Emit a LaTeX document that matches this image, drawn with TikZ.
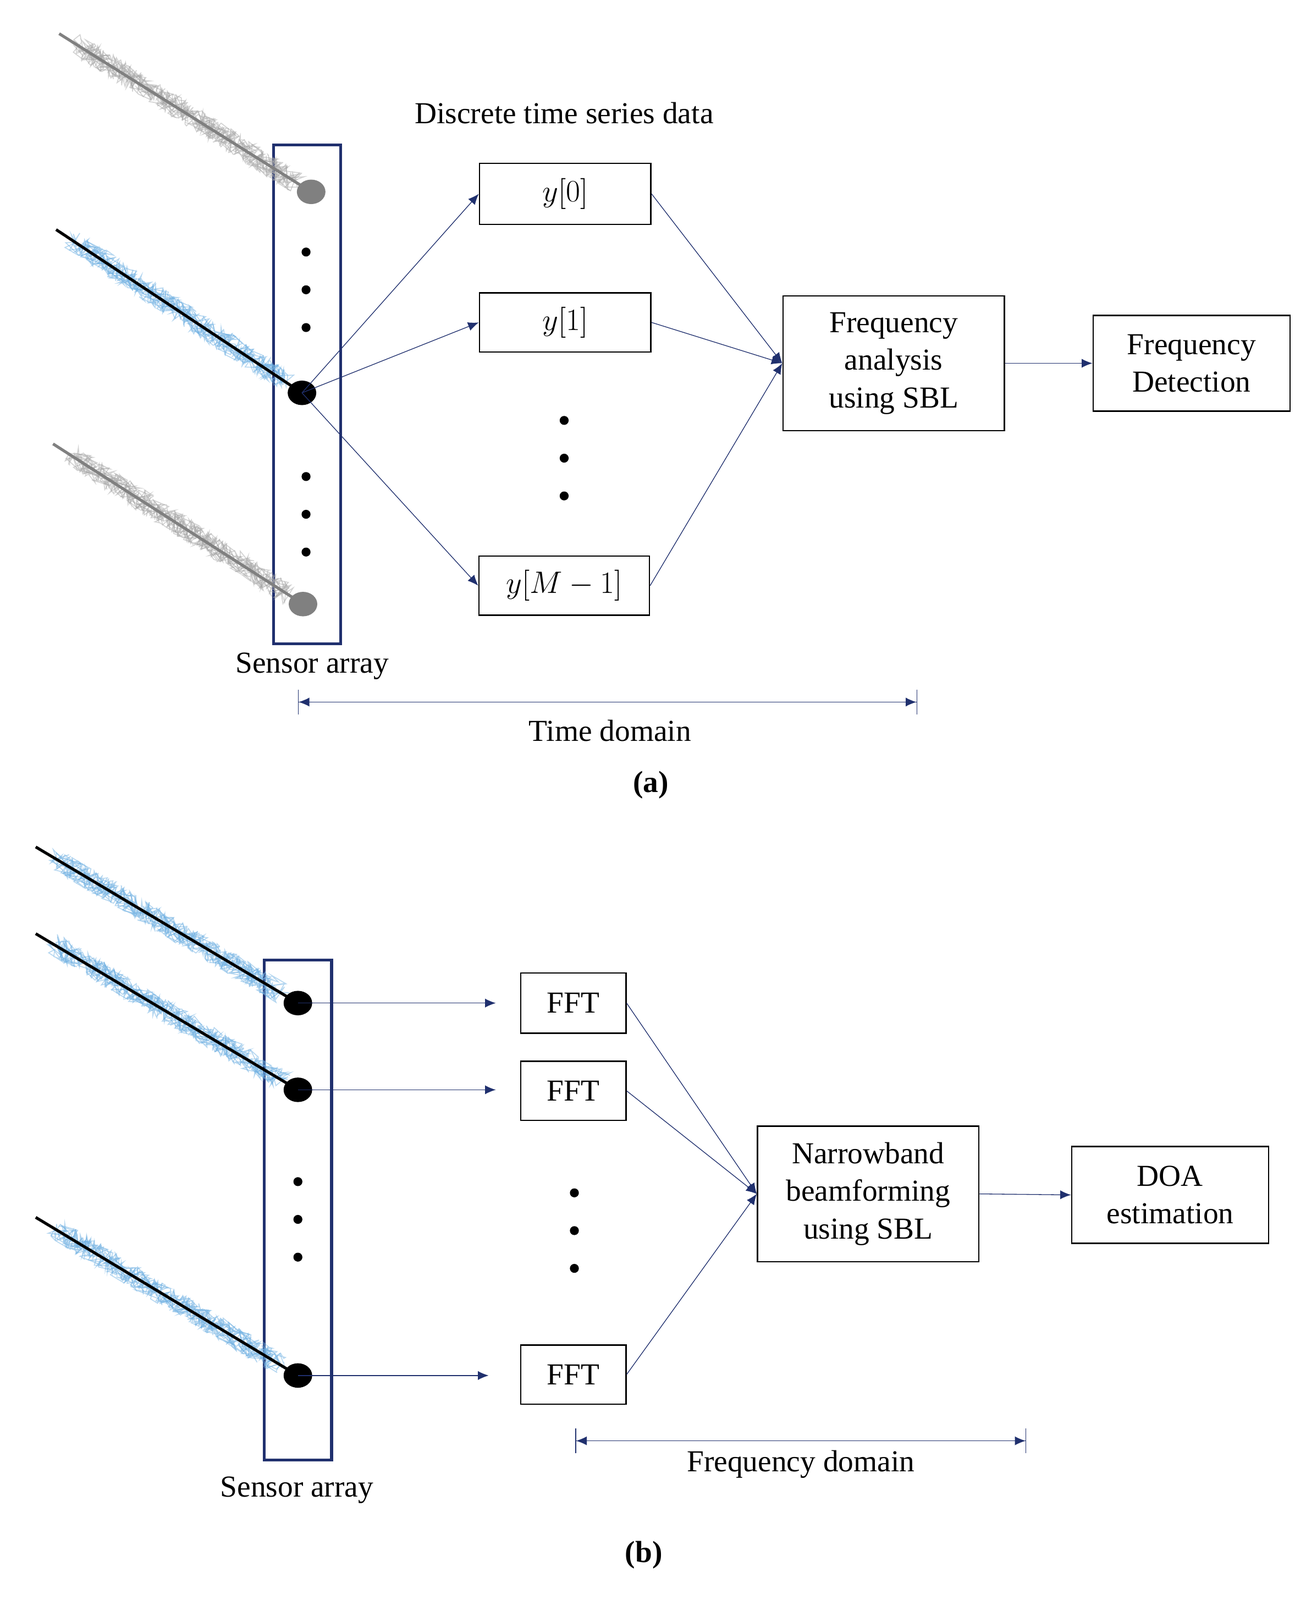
\documentclass[tikz,border=0pt]{standalone}
\usepackage{fontspec}
\setmainfont{Liberation Serif}
\usetikzlibrary{arrows.meta,decorations.pathmorphing,calc}
\definecolor{navy}{RGB}{32,48,110}
\definecolor{noiseblue}{RGB}{110,175,225}
\begin{document}
\begin{tikzpicture}[x=0.02cm,y=-0.02cm,
  font=\fontsize{17}{21}\selectfont,
  box/.style={draw,thick,align=center,inner sep=0pt},
  link/.style={navy,-{Latex[length=6pt,width=5pt]}},
  span/.style={navy,{Bar[width=14pt]Latex[length=6pt,width=5pt]}-{Latex[length=6pt,width=5pt]Bar[width=14pt]}},
  dot/.style={circle,fill,inner sep=0pt,minimum size=5pt},
  noise/.style={#1,line width=0.5pt,opacity=0.5,decorate,decoration={random steps,segment length=1.2pt,amplitude=6pt}}]
\useasboundingbox (0,0) rectangle (1280,1568);
% ray with sensor: start, sensor, colour of line, colour of noise, colour of sensor
\newcommand{\ray}[5]{%
  \foreach \k in {1,...,6}{\draw[noise=#4] ($(#1)!0.08!(#2)$) -- ($(#1)!0.93!(#2)$);}
  \draw[#3,line width=1.6pt] (#1) -- (#2);
  \fill[#5] (#2) ellipse (14 and 12);}
% ---------- (a) ----------
\draw[navy,line width=1.6pt] (268,142) rectangle (334,631);
\ray{58,33}{305,188}{gray}{gray!70}{gray}
\ray{55,225}{296,385}{black}{noiseblue}{black}
\ray{52,435}{297,592}{gray}{gray!70}{gray}
\coordinate (s0) at (296,385);
\foreach \y in {247,284,321,467,504,541} \node[dot] at (300,\y) {};
\node at (553,111) {Discrete time series data};
\node[box,minimum width=168*0.02cm,minimum height=60*0.02cm] (y0) at (554,190) {$y[0]$};
\node[box,minimum width=168*0.02cm,minimum height=58*0.02cm] (y1) at (554,316) {$y[1]$};
\node[box,minimum width=167*0.02cm,minimum height=58*0.02cm] (yM) at (553,574) {$y[M-1]$};
\foreach \y in {412,449,486} \node[dot] at (553,\y) {};
\node[box,minimum width=217*0.02cm,minimum height=132*0.02cm] (fa) at (876,356) {Frequency\\analysis\\using SBL};
\node[box,minimum width=193*0.02cm,minimum height=94*0.02cm] (fd) at (1168,356) {Frequency\\Detection};
\draw[link] (s0) -- (y0.west);
\draw[link] (s0) -- (y1.west);
\draw[link] (s0) -- (yM.west);
\draw[link] (y0.east) -- (fa.west);
\draw[link] (y1.east) -- (fa.west);
\draw[link] (yM.east) -- (fa.west);
\draw[link] (fa.east) -- (fd.west);
\node at (306,653) {Sensor array};
\coordinate (t0) at (292,688); \coordinate (t1) at (899,688);
\draw[span] (t0) -- (t1);
\node at (598,716) {Time domain};
\node at (638,769) {\textbf{(a)}};
% ---------- (b) ----------
\draw[navy,line width=1.6pt] (259,941) rectangle (325,1431);
\ray{35,830}{292,983}{black}{noiseblue}{black}
\ray{35,915}{292,1068}{black}{noiseblue}{black}
\ray{35,1193}{292,1348}{black}{noiseblue}{black}
\coordinate (b1) at (292,983); \coordinate (b2) at (292,1068); \coordinate (b3) at (292,1348);
\foreach \y in {1158,1195,1232} \node[dot] at (292,\y) {};
\node[box,minimum width=103*0.02cm,minimum height=59*0.02cm] (f1) at (562,983) {FFT};
\node[box,minimum width=103*0.02cm,minimum height=58*0.02cm] (f2) at (562,1069) {FFT};
\node[box,minimum width=103*0.02cm,minimum height=58*0.02cm] (f3) at (562,1347) {FFT};
\foreach \y in {1169,1206,1243} \node[dot] at (563,\y) {};
\coordinate (e1) at (486,983); \coordinate (e2) at (486,1068); \coordinate (e3) at (479,1348);
\draw[link] (b1) -- (e1);
\draw[link] (b2) -- (e2);
\draw[link] (b3) -- (e3);
\node[box,minimum width=217*0.02cm,minimum height=133*0.02cm] (nb) at (851,1170) {Narrowband\\beamforming\\using SBL};
\node[box,minimum width=193*0.02cm,minimum height=95*0.02cm] (doa) at (1147,1171) {DOA\\estimation};
\draw[link] (f1.east) -- (nb.west);
\draw[link] (f2.east) -- (nb.west);
\draw[link] (f3.east) -- (nb.west);
\draw[link] (nb.east) -- (doa.west);
\coordinate (g0) at (564,1412); \coordinate (g1) at (1006,1412);
\draw[span] (g0) -- (g1);
\node at (785,1435) {Frequency domain};
\node at (291,1460) {Sensor array};
\node at (631,1524) {\textbf{(b)}};
\end{tikzpicture}
\end{document}
